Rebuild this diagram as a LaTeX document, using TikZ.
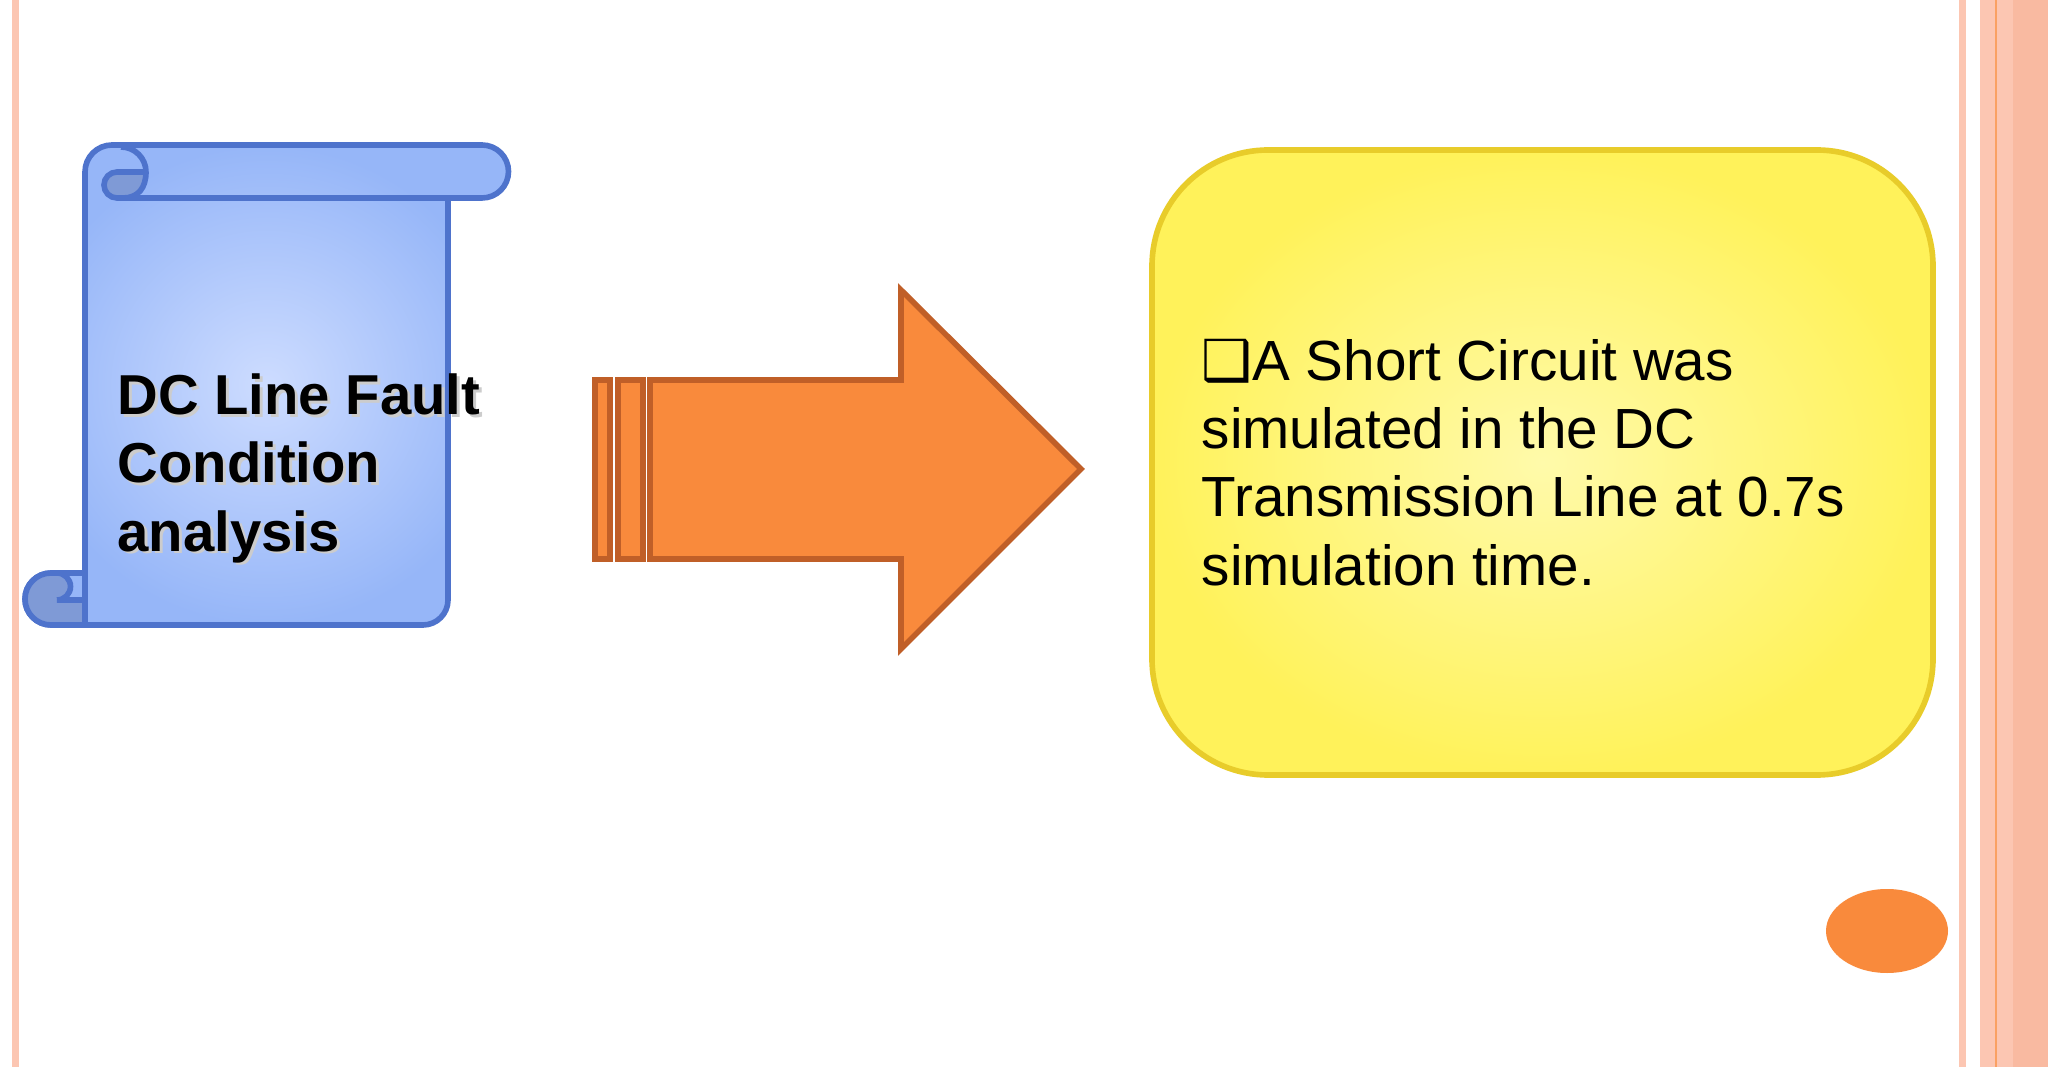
\documentclass[tikz,border=0pt]{standalone}
\usepackage{fontspec}
\setmainfont{Liberation Sans}
\newfontfamily\dejavu{DejaVu Sans}
\definecolor{pinkb}{HTML}{FCC6B2}
\definecolor{pinkd}{HTML}{F5A987}
\definecolor{scrollb}{HTML}{4E73CC}
\definecolor{scrolld}{HTML}{7F9AD6}
\definecolor{orangef}{HTML}{F98A3C}
\definecolor{oranged}{HTML}{C05F28}
\definecolor{yelb}{HTML}{E8CC2A}
\tikzset{
 scrollline/.style={draw=scrollb,line width=1.6pt},
 arrowpart/.style={fill=orangef,draw=oranged,line width=1.6pt},
 bodytext/.style={anchor=base west,font=\fontsize{16.1}{19.3}\selectfont,inner sep=0},
 headtext/.style={anchor=base west,font=\fontsize{16.0}{19.3}\selectfont\bfseries,inner sep=0},
}
\begin{document}
\begin{tikzpicture}[x=0.01cm,y=-0.01cm]
\useasboundingbox (0,0) rectangle (2048,1067);
\fill[white] (0,0) rectangle (2048,1067);
% borders
\fill[pinkb] (12,0) rectangle (19,1067);
\fill[pinkb] (1959,0) rectangle (1966,1067);
\fill[pinkb] (1980,0) rectangle (2048,1067);
\fill[pinkd!40!pinkb] (2013,0) rectangle (2048,1067);
\draw[orangef!80,line width=0.8pt] (1996,0) -- (1996,1067);
% scroll
\path[scrollline,inner color={rgb,255:red,205;green,220;blue,255},outer color={rgb,255:red,150;green,182;blue,248}]
 (85,172) arc[start angle=-180,end angle=-90,radius=27] -- (482,145)
 arc[start angle=-90,end angle=90,radius=26.5] -- (448,198) -- (448,600)
 arc[start angle=0,end angle=90,radius=25] -- (51,625)
 arc[start angle=-270,end angle=-90,radius=26] -- (85,573) -- cycle;
\filldraw[scrollline,fill=scrolld] (146,172) -- (117,172) arc[start angle=-90,end angle=-270,radius=13] -- (123,198) .. controls (138,198) and (146,188) .. (146,172);
\draw[scrollline] (146,172) arc[start angle=0,end angle=-90,radius=25];
\draw[scrollline] (123,198) -- (448,198);
\filldraw[scrollline,fill=scrolld] (85,625) -- (51,625) arc[start angle=-270,end angle=-90,radius=26] -- (57,573) arc[start angle=-90,end angle=90,radius=13.5] -- (85,600) -- cycle;
\draw[scrollline] (85,573) -- (85,625);
% scroll text
\foreach \t/\y in {DC Line Fault/415,Condition/483,analysis/551}
  \node[headtext,text=gray!40] at (120,\y+3) {\t};
\node[headtext] (h1) at (117,415) {DC Line Fault};
\node[headtext] (h2) at (117,483) {Condition};
\node[headtext] (h3) at (117,551) {analysis};
% arrow
\path[arrowpart] (595,380) rectangle (610,559);
\path[arrowpart] (618,380) rectangle (643,559);
\path[arrowpart] (650,380) -- (901,380) -- (901,290) -- (1081,469) -- (901,649) -- (901,559) -- (650,559) -- cycle;
% yellow box
\path[draw=yelb,line width=1.6pt,inner color={rgb,255:red,255;green,250;blue,170},outer color={rgb,255:red,255;green,242;blue,90},rounded corners=33pt] (1152,150) rectangle (1933,775);
\node[bodytext] (t1) at (1201,381) {{\dejavu ❑}A Short Circuit was};
\node[bodytext] (t2) at (1201,449) {simulated in the DC};
\node[bodytext] (t3) at (1201,517) {Transmission Line at 0.7s};
\node[bodytext] (t4) at (1201,585) {simulation time.};
% ellipse
\fill[orangef] (1887,931) ellipse[x radius=61,y radius=42];
\end{tikzpicture}
\end{document}
